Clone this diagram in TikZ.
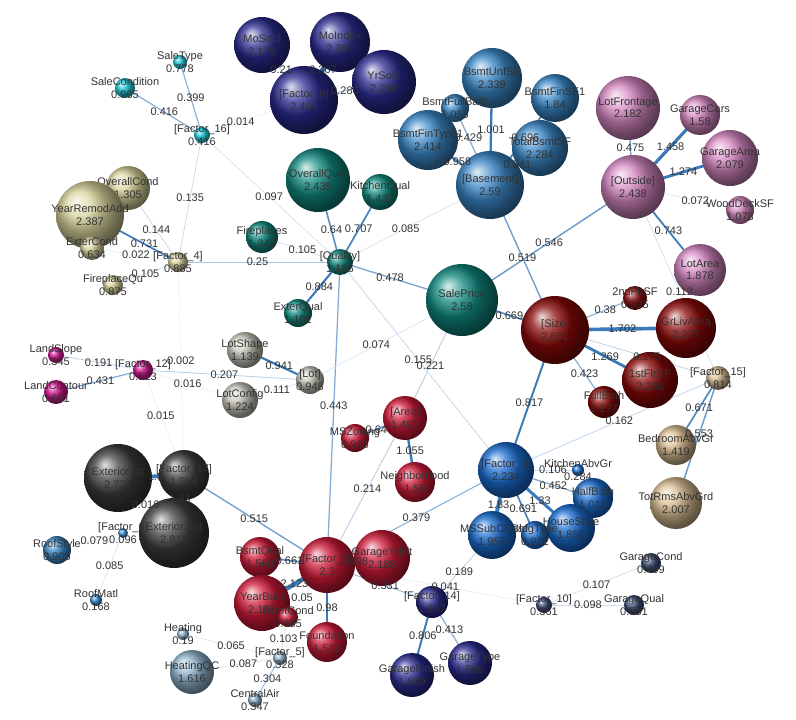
\documentclass[tikz,border=0pt]{standalone}
\usepackage{fontspec}
\setmainfont{Liberation Sans}
\usetikzlibrary{backgrounds,calc}
\definecolor{cPur}{HTML}{2A2A90}
\definecolor{cCyan}{HTML}{20C8D8}
\definecolor{cKhaki}{HTML}{D8D49C}
\definecolor{cTeal}{HTML}{108A80}
\definecolor{cSteel}{HTML}{3A88C8}
\definecolor{cPink}{HTML}{D486C0}
\definecolor{cDRed}{HTML}{8A0808}
\definecolor{cTan}{HTML}{D8BC90}
\definecolor{cBlue}{HTML}{1A6CD0}
\definecolor{cRed}{HTML}{D01A38}
\definecolor{cSlate}{HTML}{3A4A78}
\definecolor{cGray}{HTML}{3C3C3C}
\definecolor{cMag}{HTML}{D0108C}
\definecolor{cBeige}{HTML}{C8C6BA}
\definecolor{cLBlue}{HTML}{90B4CC}
\definecolor{cEdge}{HTML}{3A7AB8}
\definecolor{cTxt}{HTML}{333333}
\tikzset{
 ball/.style={circle,inner sep=0pt,shading=ball,ball color=#1},
 lab/.style={align=center,text=cTxt,font=\fontsize{11}{12.5}\selectfont},
 elab/.style={text=cTxt,font=\fontsize{11}{12}\selectfont,inner sep=1pt}
}
\begin{document}
\begin{tikzpicture}[x=1pt,y=-1pt]
\useasboundingbox (0,0) rectangle (796,720);
\foreach \id/\x/\y/\r/\c/\n/\v in {
 MoSold/262/45/28/cPur/MoSold/2.179,
 MoIndex/340/42/30/cPur/MoIndex/2.307,
 YrSold/384/82/32/cPur/YrSold/2.288,
 FEight/304/100/34/cPur/[Factor\_8]/2.404,
 SaleType/180/62/7/cCyan/SaleType/0.778,
 SaleCondition/125/88/10/cCyan/SaleCondition/0.965,
 FSixteen/202/135/8/cCyan/[Factor\_16]/0.416,
 OverallCond/128/188/22/cKhaki/OverallCond/1.305,
 YearRemodAdd/90/215/34/cKhaki/YearRemodAdd/2.387,
 ExterCond/92/248/12/cKhaki/ExterCond/0.634,
 FireplaceQu/113/285/10/cKhaki/FireplaceQu/0.875,
 FFour/178/262/10/cKhaki/[Factor\_4]/0.885,
 OverallQual/318/180/32/cTeal/OverallQual/2.435,
 KitchenQual/380/192/18/cTeal/KitchenQual/1.432,
 Fireplaces/262/237/16/cTeal/Fireplaces/1.343,
 ExterQual/298/313/14/cTeal/ExterQual/1.191,
 Quality/340/262/13/cTeal/[Quality]/1.166,
 SalePrice/462/300/36/cTeal/SalePrice/2.58,
 BsmtUnfSF/492/78/30/cSteel/BsmtUnfSF/2.339,
 BsmtFullBath/455/108/14/cSteel/BsmtFullBath/1.055,
 BsmtFinSF/555/98/24/cSteel/BsmtFinSF1/1.84,
 BsmtFinType/428/140/30/cSteel/BsmtFinType1/2.414,
 TotalBsmtSF/540/148/28/cSteel/TotalBsmtSF/2.284,
 Basement/490/185/34/cSteel/[Basement]/2.59,
 LotFrontage/628/108/32/cPink/LotFrontage/2.182,
 GarageCars/700/115/20/cPink/GarageCars/1.58,
 GarageArea/730/158/28/cPink/GarageArea/2.079,
 Outside/633/187/32/cPink/[Outside]/2.438,
 WoodDeckSF/740/210/14/cPink/WoodDeckSF/1.078,
 LotArea/700/270/26/cPink/LotArea/1.878,
 Size/555/330/34/cDRed/[Size]/2.661,
 SecondFlr/635/298/12/cDRed/2ndFlrSF/0.925,
 GrLivArea/686/328/30/cDRed/GrLivArea/2.277,
 FirstFlr/650/380/28/cDRed/1stFlrSF/2.288,
 FullBath/604/402/16/cDRed/FullBath/1.177,
 FFifteen/718/378/12/cTan/[Factor\_15]/0.814,
 Bedroom/676/445/20/cTan/BedroomAbvGr/1.419,
 TotRms/676/503/26/cTan/TotRmsAbvGrd/2.007,
 FOne/506/470/28/cBlue/[Factor\_1]/2.234,
 KitchenAbvGr/578/470/6/cBlue/KitchenAbvGr/0.284,
 HalfBath/593/498/20/cBlue/HalfBath/1.013,
 HouseStyle/571/528/24/cBlue/HouseStyle/1.858,
 BldgType/535/535/14/cBlue/BldgType/0.932,
 MSSubClass/492/535/24/cBlue/MSSubClass/1.957,
 Area/405/418/22/cRed/[Area]/1.491,
 MSZoning/355/438/14/cRed/MSZoning/0.965,
 Neighborhood/415/482/20/cRed/Neighborhood/1.59,
 GarageYrBlt/382/558/28/cRed/GarageYrBlt/2.185,
 FTwo/327/565/28/cRed/[Factor\_2]/2.3,
 BsmtQual/260/557/20/cRed/BsmtQual/1.568,
 YearBuilt/262/603/28/cRed/YearBuilt/2.187,
 BsmtCond/288/617/10/cRed/BsmtCond/0.605,
 Foundation/327/642/20/cRed/Foundation/1.523,
 FFourteen/432/602/16/cPur/[Factor\_14]/1.167,
 GarageFinish/412/675/22/cPur/GarageFinish/1.689,
 GarageType/470/663/22/cPur/GarageType/1.505,
 FTen/544/605/8/cSlate/[Factor\_10]/0.361,
 GarageCond/651/563/10/cSlate/GarageCond/0.499,
 GarageQual/634/605/10/cSlate/GarageQual/0.551,
 Exterior1st/118/478/34/cGray/Exterior1st/2.727,
 FSeventeen/184/475/25/cGray/[Factor\_17]/1.954,
 Exterior2nd/174/533/35/cGray/Exterior2nd/2.816,
 LandSlope/56/355/8/cMag/LandSlope/0.345,
 LandContour/56/392/12/cMag/LandContour/0.651,
 FTwelve/143/370/10/cMag/[Factor\_12]/0.523,
 LotShape/245/350/18/cBeige/LotShape/1.139,
 Lot/310/380/14/cBeige/[Lot]/0.948,
 LotConfig/240/400/18/cBeige/LotConfig/1.224,
 FSix/123/533/5/cSteel/[Factor\_6]/0.096,
 RoofStyle/57/550/14/cSteel/RoofStyle/0.905,
 RoofMatl/96/600/6/cSteel/RoofMatl/0.168,
 Heating/183/634/6/cLBlue/Heating/0.19,
 HeatingQC/192/672/22/cLBlue/HeatingQC/1.616,
 FFive/280/658/7/cLBlue/[Factor\_5]/0.328,
 CentralAir/255/700/7/cLBlue/CentralAir/0.347}
{
 \node[ball=\c,minimum size=2*\r] (\id) at (\x,\y) {};
 \node[lab] at (\x,\y) {\n\\\v};
}
\def\edgelist{
 MoSold/FEight/0.21, MoIndex/FEight/2.307, YrSold/FEight/0.286,
 SaleType/FSixteen/0.399, SaleCondition/FSixteen/0.416, FSixteen/FEight/0.014,
 OverallCond/FFour/0.144, YearRemodAdd/FFour/0.731, ExterCond/FFour/0.022, FireplaceQu/FFour/0.105,
 FFour/FSixteen/0.135, FFour/Quality/0.25, FSixteen/Quality/0.097,
 OverallQual/Quality/0.64, KitchenQual/Quality/0.707, Fireplaces/Quality/0.105, ExterQual/Quality/0.884,
 Quality/SalePrice/0.478, Quality/Basement/0.085,
 BsmtUnfSF/Basement/1.001, BsmtFullBath/Basement/0.429, BsmtFinSF/Basement/0.696,
 BsmtFinType/Basement/0.958, TotalBsmtSF/Basement/0.841, Basement/Size/0.519, SalePrice/Outside/0.546,
 LotFrontage/Outside/0.475, GarageCars/Outside/1.458, GarageArea/Outside/1.274, WoodDeckSF/Outside/0.072,
 LotArea/Outside/0.743, Outside/FFifteen/0.112,
 Size/SalePrice/0.669, Size/SecondFlr/0.38, Size/GrLivArea/1.702, Size/FirstFlr/1.269, Size/FullBath/0.423,
 Size/FFifteen/0.175, Size/FOne/0.817,
 FFifteen/Bedroom/0.671, FFifteen/TotRms/0.553, FFifteen/FOne/0.162,
 FOne/KitchenAbvGr/0.106, FOne/HalfBath/0.452, FOne/HouseStyle/1.33, FOne/BldgType/0.691, FOne/MSSubClass/1.83,
 FOne/FTwo/0.379, Quality/FOne/0.155, SalePrice/Area/0.221, FFourteen/MSSubClass/0.189,
 Area/MSZoning/0.64, Area/Neighborhood/1.055, Area/FTwo/0.214, FTwo/GarageYrBlt/0.498, FTwo/BsmtQual/0.661,
 FTwo/YearBuilt/2.123, FTwo/BsmtCond/0.05, FTwo/Foundation/0.98, FTwo/FSeventeen/0.515, Quality/FTwo/0.443,
 FTwo/FFourteen/0.331, FTwo/FTen/0.041, BsmtCond/FFive/0.103,
 FFourteen/GarageFinish/0.806, FFourteen/GarageType/0.413, FTen/GarageCond/0.107, FTen/GarageQual/0.098,
 Exterior1st/FSeventeen/1.8, FSeventeen/Exterior2nd/1.83, Exterior1st/Exterior2nd/0.016,
 FSeventeen/FFour/0.002, FSeventeen/FTwelve/0.015,
 LandSlope/FTwelve/0.191, LandContour/FTwelve/0.431, FTwelve/Lot/0.207,
 LotShape/Lot/0.941, LotConfig/Lot/0.111, LotConfig/FTwelve/0.016, Lot/SalePrice/0.074,
 RoofStyle/FSix/0.079, RoofMatl/FSix/0.085,
 Heating/FFive/0.065, HeatingQC/FFive/0.087, CentralAir/FFive/0.304}
\begin{scope}[on background layer]
\fill[white] (0,0) rectangle (796,720);
\foreach \a/\b/\v in \edgelist
{
 \pgfmathsetmacro\w{0.4+1.9*\v}
 \pgfmathsetmacro\k{min(100,15+\v*110)}
 \draw[cEdge!\k!white,line width=\w pt] (\a.center) -- (\b.center);
}
\end{scope}
\foreach \a/\b/\v in \edgelist
 \path (\a) -- node[elab] {\v} (\b);
\end{tikzpicture}
\end{document}
